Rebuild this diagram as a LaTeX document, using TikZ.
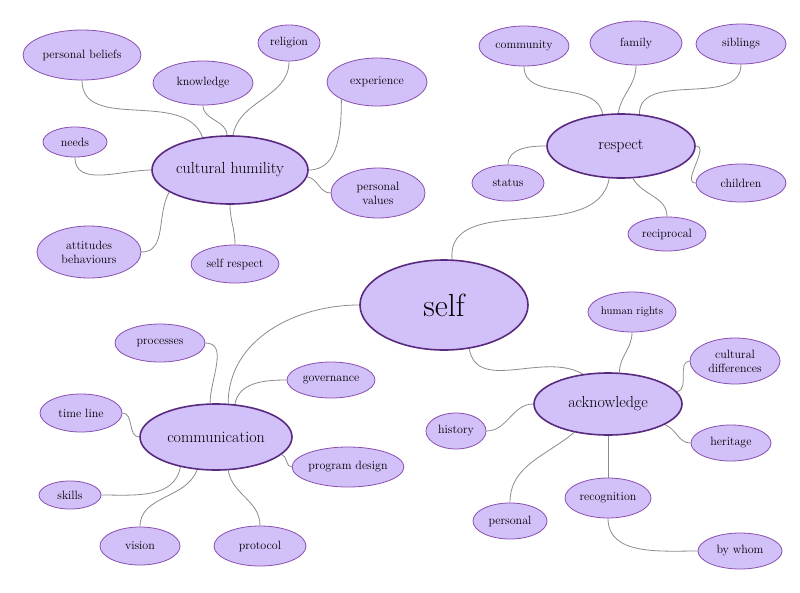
\documentclass[tikz,border=0pt]{standalone}
\usetikzlibrary{shapes.geometric,backgrounds}
\begin{document}
\begin{tikzpicture}[x=1pt,y=-1pt,
  bub/.style={ellipse,draw=bord,fill=fillc,line width=0.8pt,inner sep=0pt,align=center,font=\fontsize{12}{14}\selectfont},
  hub/.style={bub,draw=hubb,line width=1.6pt,font=\fontsize{16}{18}\selectfont},
  link/.style={draw=linkc,line width=0.8pt}]
\definecolor{fillc}{HTML}{D2C0F8}
\definecolor{bord}{HTML}{8A4FB0}
\definecolor{hubb}{HTML}{5A2A80}
\definecolor{linkc}{HTML}{8C8C8C}
\useasboundingbox (0,0) rectangle (800,592);
\tikzset{sz/.style 2 args={minimum width=#1pt,minimum height=#2pt}}
% nodes
\node[hub,sz={168}{90},font=\fontsize{32}{34}\selectfont] (self) at (444,305) {self};
\node[hub,sz={156}{68}] (ch) at (230,170) {cultural humility};
\node[hub,sz={148}{64}] (re) at (621,146) {respect};
\node[hub,sz={148}{62}] (ac) at (608,404) {acknowledge};
\node[hub,sz={152}{66}] (co) at (216,437) {communication};
\node[bub,sz={118}{50}] (pb) at (82,55) {personal beliefs};
\node[bub,sz={62}{36}] (rel) at (289,43) {religion};
\node[bub,sz={100}{44}] (kn) at (203,83) {knowledge};
\node[bub,sz={100}{48}] (ex) at (377,82) {experience};
\node[bub,sz={64}{30}] (ne) at (75,142) {needs};
\node[bub,sz={94}{50}] (pv) at (378,193) {personal\\values};
\node[bub,sz={104}{52}] (at) at (89,252) {attitudes\\behaviours};
\node[bub,sz={88}{38}] (sr) at (235,264) {self respect};
\node[bub,sz={90}{40}] (cm) at (524,46) {community};
\node[bub,sz={92}{44}] (fa) at (636,43) {family};
\node[bub,sz={90}{40}] (si) at (741,44) {siblings};
\node[bub,sz={72}{36}] (st) at (508,183) {status};
\node[bub,sz={90}{38}] (chi) at (741,183) {children};
\node[bub,sz={78}{34}] (rc) at (667,234) {reciprocal};
\node[bub,sz={80}{40},font=\fontsize{11}{13}\selectfont] (hr) at (632,312) {human rights};
\node[bub,sz={90}{46}] (cd) at (735,361) {cultural\\differences};
\node[bub,sz={80}{36}] (he) at (731,443) {heritage};
\node[bub,sz={60}{36}] (hi) at (456,431) {history};
\node[bub,sz={74}{36}] (pe) at (510,521) {personal};
\node[bub,sz={86}{40}] (rg) at (608,498) {recognition};
\node[bub,sz={84}{36}] (bw) at (740,551) {by whom};
\node[bub,sz={90}{38}] (pr) at (160,343) {processes};
\node[bub,sz={88}{36}] (go) at (331,380) {governance};
\node[bub,sz={82}{38}] (tl) at (81,413) {time line};
\node[bub,sz={90}{40}] (pd) at (348,467) {program design};
\node[bub,sz={62}{28}] (sk) at (70,495) {skills};
\node[bub,sz={80}{38}] (vi) at (140,546) {vision};
\node[bub,sz={92}{40}] (pt) at (260,546) {protocol};
% connectors
\begin{scope}[on background layer]
\fill[white] (0,0) rectangle (800,592);
\draw[link] (self.80) to[out=95,in=-100] (re.250);
\draw[link] (self.-60) to[out=-80,in=150] (ac.130);
\draw[link] (self.west) to[out=180,in=90] (co.70);
\draw[link] (pb.south) to[out=-90,in=110] (ch.130);
\draw[link] (ne.south) to[out=-90,in=180] (ch.west);
\draw[link] (kn.south) to[out=-90,in=90] (ch.95);
\draw[link] (rel.south) to[out=-90,in=80] (ch.85);
\draw[link] (ex.south west) to[out=-90,in=0] (ch.east);
\draw[link] (pv.west) to[out=180,in=-10] (ch.-5);
\draw[link] (at.east) to[out=0,in=-120] (ch.200);
\draw[link] (sr.north) to[out=90,in=-90] (ch.south);
\draw[link] (cm.south) to[out=-90,in=100] (re.120);
\draw[link] (fa.south) to[out=-90,in=80] (re.95);
\draw[link] (si.south) to[out=-90,in=90] (re.60);
\draw[link] (st.north) to[out=90,in=180] (re.west);
\draw[link] (chi.west) to[out=180,in=0] (re.east);
\draw[link] (rc.north) to[out=90,in=-60] (re.-70);
\draw[link] (hr.south) to[out=-90,in=90] (ac.70);
\draw[link] (cd.west) to[out=180,in=10] (ac.10);
\draw[link] (he.west) to[out=180,in=-20] (ac.-20);
\draw[link] (hi.east) to[out=0,in=180] (ac.west);
\draw[link] (pe.north) to[out=90,in=-140] (ac.-140);
\draw[link] (rg.north) -- (ac.south);
\draw[link] (rg.south) to[out=-90,in=180] (bw.west);
\draw[link] (pr.east) to[out=0,in=90] (co.100);
\draw[link] (go.west) to[out=180,in=80] (co.60);
\draw[link] (tl.east) to[out=0,in=180] (co.west);
\draw[link] (pd.west) to[out=180,in=-10] (co.-15);
\draw[link] (sk.east) to[out=0,in=-100] (co.-140);
\draw[link] (vi.north) to[out=90,in=-110] (co.-120);
\draw[link] (pt.north) to[out=90,in=-80] (co.-70);
\end{scope}
\end{tikzpicture}
\end{document}
